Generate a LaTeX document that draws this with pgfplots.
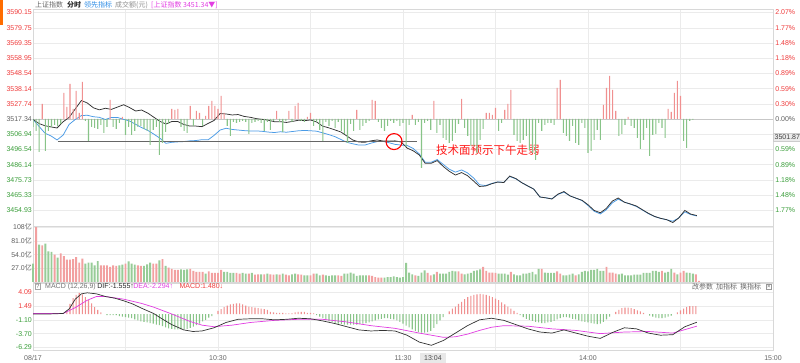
\documentclass[border=0pt]{standalone}
\usepackage{pgfplots}
\pgfplotsset{compat=1.18}
\usepackage{pgfplotstable}
\usepackage{fontspec}
\setmainfont{Liberation Sans}
\newfontfamily\cjk{Noto Sans CJK SC}
\definecolor{upred}{HTML}{F03C3C}
\definecolor{dngreen}{HTML}{3A9E3A}
\definecolor{barred}{HTML}{F2A0A0}
\definecolor{bargreen}{HTML}{97CC97}
\definecolor{ibarred}{HTML}{F09090}
\definecolor{ibargreen}{HTML}{88C488}
\definecolor{gridc}{HTML}{EBEBEB}
\definecolor{frame}{HTML}{D8D8D8}
\definecolor{labgray}{HTML}{606060}
\definecolor{lineblue}{HTML}{4A9BE6}
\definecolor{linedark}{HTML}{333333}
\definecolor{deamag}{HTML}{E23CE2}
\definecolor{hdrblue}{HTML}{2C8CE6}

\pgfplotstableread{
t p b
0 3517.1 3517.1
2.0 3514.2 3512.2
3.9 3512.7 3507.6
5.9 3511.9 3505.7
7.8 3511.2 3503.0
9.8 3515.5 3506.4
11.7 3518.4 3513.6
13.7 3524.2 3517.0
15.7 3530.0 3519.7
17.6 3528.3 3519.9
19.6 3525.0 3518.9
21.5 3523.6 3518.5
23.5 3524.7 3517.0
25.4 3523.9 3518.4
27.4 3525.5 3518.4
29.4 3527.1 3517.1
31.3 3525.2 3516.0
33.3 3522.8 3513.7
35.2 3523.5 3511.5
37.2 3521.4 3509.6
39.1 3518.7 3507.1
41.1 3515.8 3504.3
43.1 3513.9 3500.7
45.0 3515.6 3501.4
47.0 3515.6 3501.7
48.9 3513.6 3501.9
50.9 3512.5 3502.4
52.8 3512.5 3502.6
54.8 3512.1 3503.2
56.8 3514.3 3503.1
58.7 3516.3 3506.1
60.7 3521.1 3509.8
62.6 3520.8 3511.0
64.6 3520.1 3510.2
66.5 3520.4 3509.8
68.5 3519.1 3509.4
70.5 3518.5 3509.1
72.4 3517.6 3509.2
74.4 3517.1 3508.9
76.3 3516.5 3508.4
78.3 3515.5 3508.1
80.2 3515.5 3508.6
82.2 3515.0 3508.3
84.2 3515.7 3508.8
86.1 3516.5 3509.3
88.1 3516.2 3509.5
90.0 3516.7 3509.3
92.0 3515.3 3509.0
93.9 3512.5 3507.9
95.9 3511.3 3506.7
97.9 3509.9 3505.3
99.8 3508.5 3503.4
101.8 3505.7 3501.4
103.7 3503.0 3500.4
105.7 3501.6 3499.5
107.6 3501.4 3499.5
109.6 3502.4 3500.8
111.6 3503.0 3501.9
113.5 3502.3 3502.0
115.5 3502.2 3501.1
117.4 3502.4 3500.0
119.4 3501.6 3499.5
121.3 3497.5 3499.3
123.3 3495.6 3497.2
125.3 3492.7 3493.4
127.2 3487.0 3487.8
129.2 3487.1 3487.8
131.1 3488.9 3489.6
133.1 3484.8 3486.2
135.0 3481.6 3483.0
137.0 3479.0 3481.0
139.0 3480.7 3482.5
140.9 3478.6 3480.5
142.9 3474.9 3477.0
144.8 3471.2 3472.4
146.8 3471.5 3471.8
148.7 3473.0 3473.2
150.7 3474.2 3474.3
152.7 3473.9 3474.0
154.6 3478.3 3478.0
156.6 3476.6 3476.4
158.5 3473.8 3473.8
160.5 3471.5 3471.5
162.4 3469.4 3469.4
164.4 3464.0 3464.0
166.4 3463.4 3463.4
168.3 3462.6 3462.8
170.3 3466.0 3465.8
172.2 3467.7 3467.3
174.2 3464.7 3464.7
176.1 3463.2 3463.2
178.1 3461.7 3461.5
180.1 3458.5 3458.0
182.0 3454.8 3454.2
184.0 3453.2 3452.4
185.9 3456.1 3455.2
187.9 3461.2 3460.0
189.8 3463.3 3462.5
191.8 3460.4 3460.5
193.8 3459.2 3459.0
195.7 3457.8 3457.5
197.7 3455.2 3455.0
199.6 3452.8 3452.6
201.6 3450.7 3450.6
203.5 3449.4 3449.4
205.5 3448.5 3448.4
207.5 3446.5 3447.4
209.4 3449.6 3449.6
211.4 3454.8 3453.8
213.3 3452.3 3452.0
215.3 3451.3 3451.0
}\pricetab

\pgfplotsset{panel/.style={scale only axis, width=740pt, xmin=0, xmax=240,
  anchor=south west, clip=false, axis line style={draw=frame},
  tick style={draw=none}, xticklabels={}, yticklabels={},
  grid=major, major grid style={draw=gridc, line width=0.5pt},
  xtick={30,60,90,120,150,180,210}}}

\newcommand\lab[4]{\node[anchor=#1,text=#2,inner sep=0pt] at (axis cs:#3) {#4};}

\begin{document}
\begin{tikzpicture}[font=\fontsize{7}{8}\selectfont]
\path[use as bounding box, fill=white] (0pt,0pt) rectangle (800pt,363pt);
\fill[orange!85!red] (0pt,338pt) rectangle (2.5pt,363pt);
% header
\node[anchor=west,inner sep=0pt,text=black!60] at (35pt,358pt) {\cjk 上证指数};
\node[anchor=west,inner sep=0pt,text=black!85] at (67pt,358pt) {\cjk\bfseries 分时};
\node[anchor=west,inner sep=0pt,text=hdrblue] at (84pt,358pt) {\cjk 领先指标};
\node[anchor=west,inner sep=0pt,text=black!45] at (115pt,358pt) {\cjk 成交额(元)};
\node[anchor=west,inner sep=0pt,text=deamag] at (151pt,358pt) {\cjk [上证指数 3451.34▼]};

% ===== price panel =====
\begin{axis}[panel, at={(33pt,137pt)}, height=217pt, ymin=3444.15, ymax=3592.6,
  ytick={3454.93,3465.33,3475.73,3486.14,3496.54,3506.94,3527.74,3538.14,3548.54,3558.95,3569.35,3579.75,3590.15},
  extra y ticks={3517.34}, extra y tick labels={},
  extra y tick style={major grid style={draw=black!22, line width=0.6pt}}]
\addplot[lineblue, line width=0.75pt] table[x=t, y=b] {\pricetab};
\addplot[linedark, line width=0.75pt] table[x=t, y=p] {\pricetab};
\addplot[black!60, line width=0.8pt] coordinates {(8.1,3501.87) (124.6,3501.87)};
\draw[red, line width=1.1pt] (axis cs:117.1,3501.9) circle[radius=8pt];
\node[anchor=west, text=red!90!white, inner sep=0pt, font=\cjk\fontsize{11.5}{12}\selectfont] at (axis cs:130.7,3496.1) {技术面预示下午走弱};
% left labels
\lab{east}{upred}{-0.3,3590.15}{3590.15}
\lab{east}{upred}{-0.3,3579.75}{3579.75}
\lab{east}{upred}{-0.3,3569.35}{3569.35}
\lab{east}{upred}{-0.3,3558.95}{3558.95}
\lab{east}{upred}{-0.3,3548.54}{3548.54}
\lab{east}{upred}{-0.3,3538.14}{3538.14}
\lab{east}{upred}{-0.3,3527.74}{3527.74}
\lab{east}{labgray}{-0.3,3517.34}{3517.34}
\lab{east}{dngreen}{-0.3,3506.94}{3506.94}
\lab{east}{dngreen}{-0.3,3496.54}{3496.54}
\lab{east}{dngreen}{-0.3,3486.14}{3486.14}
\lab{east}{dngreen}{-0.3,3475.73}{3475.73}
\lab{east}{dngreen}{-0.3,3465.33}{3465.33}
\lab{east}{dngreen}{-0.3,3454.93}{3454.93}
% right labels
\lab{west}{upred}{240.7,3590.15}{2.07\%}
\lab{west}{upred}{240.7,3579.75}{1.77\%}
\lab{west}{upred}{240.7,3569.35}{1.48\%}
\lab{west}{upred}{240.7,3558.95}{1.18\%}
\lab{west}{upred}{240.7,3548.54}{0.89\%}
\lab{west}{upred}{240.7,3538.14}{0.59\%}
\lab{west}{upred}{240.7,3527.74}{0.30\%}
\lab{west}{labgray}{240.7,3517.34}{0.00\%}
\lab{west}{dngreen}{240.7,3496.54}{0.59\%}
\lab{west}{dngreen}{240.7,3486.14}{0.89\%}
\lab{west}{dngreen}{240.7,3475.73}{1.18\%}
\lab{west}{dngreen}{240.7,3465.33}{1.48\%}
\lab{west}{dngreen}{240.7,3454.93}{1.77\%}
\node[anchor=west, fill=black!8, draw=black!20, text=black!75, inner xsep=1.5pt, inner ysep=1.5pt, minimum width=28pt] at (axis cs:240,3505.0) {3501.87};
\end{axis}

% ===== indicator bars overlay =====
\begin{axis}[scale only axis, width=740pt, height=217pt, at={(33pt,137pt)}, anchor=south west,
  xmin=0, xmax=240, ymin=-107, ymax=110, axis lines=none]
\addplot[ybar, bar width=1.1pt, bar shift=0pt, fill=ibarred, draw=none] coordinates {
(3,15) (10,26) (11,12) (12,35) (13,10) (14,28) (15,6) (16,37) (25,19) (29,2) (45,10) (46,9) (47,10) (51,13) (53,8) (54,6) (56,3) (57,13) (58,18) (59,13) (60,10) (61,23) (62,6) (79,8) (83,8) (85,13) (86,16) (89,2) (90,6) (105,9) (110,19) (111,18) (123,4) (130,18) (139,20) (147,6) (148,6) (149,4) (150,11) (153,9) (154,15) (155,29) (170,31) (171,39) (185,14) (186,31) (187,43) (188,29) (189,8) (193,2) (206,10) (207,7) (208,26) (209,38) (210,23)};
\addplot[ybar, bar width=1.1pt, bar shift=0pt, fill=ibargreen, draw=none] coordinates {
(0,-8) (1,-12) (2,-33) (4,-32) (5,-12) (6,-8) (7,-6) (8,-7) (9,-5) (17,-2) (18,-22) (19,-8) (20,-9) (21,-10) (22,-6) (23,-14) (24,-8) (26,-8) (27,-10) (28,-4) (30,-16) (31,-8) (32,-16) (33,-12) (34,-8) (35,-7) (36,-10) (37,-12) (38,-26) (39,-11) (40,-8) (41,-36) (42,-24) (43,-13) (44,-5) (48,-8) (49,-12) (50,-14) (52,-7) (55,-7) (63,-7) (64,-17) (65,-3) (66,-4) (67,-3) (68,-2) (69,-3) (70,-15) (71,-4) (72,-3) (73,-2) (74,-4) (75,-12) (76,-3) (77,-11) (78,-2) (80,-3) (81,-13) (82,-2) (84,-3) (87,-2) (88,-3) (91,-7) (92,-3) (93,-11) (94,-22) (95,-3) (96,-7) (97,-2) (98,-9) (99,-3) (100,-12) (101,-15) (102,-24) (103,-5) (104,-12) (106,-11) (107,-7) (108,-4) (109,-2) (112,-3) (113,-9) (114,-12) (115,-7) (116,-2) (117,-4) (118,-2) (119,-7) (120,-4) (121,-28) (122,-6) (124,-6) (125,-3) (126,-49) (127,-4) (128,-2) (129,-11) (131,-14) (132,-6) (133,-19) (134,-21) (135,-24) (136,-22) (137,-14) (138,-5) (140,-9) (141,-17) (142,-27) (143,-27) (144,-34) (145,-21) (146,-10) (151,-12) (152,-4) (156,-16) (157,-22) (158,-24) (159,-21) (160,-17) (161,-31) (162,-34) (163,-41) (164,-4) (165,-12) (166,-6) (167,-4) (168,-4) (169,-6) (172,-14) (173,-17) (174,-22) (175,-7) (176,-24) (177,-26) (178,-4) (179,-9) (180,-34) (181,-32) (182,-21) (183,-11) (184,-21) (190,-17) (191,-15) (192,-6) (194,-7) (195,-9) (196,-19) (197,-30) (198,-21) (199,-9) (200,-37) (201,-16) (202,-15) (203,-4) (204,-9) (205,-19) (211,-22) (212,-29) (213,-2) (214,-1)};
\end{axis}

% ===== volume panel =====
\begin{axis}[panel, at={(33pt,81pt)}, height=56pt, ymin=0, ymax=110, ytick={27,54,81,108}]
\addplot[ybar, bar width=1.9pt, bar shift=0pt, fill=barred, draw=none] coordinates {
(1,108) (3,72) (7,54) (9,56) (10,50.6) (11,44) (12,44) (13,44.7) (14,49) (15,38) (16,46) (22,32.8) (23,32.8) (24,32.8) (25,29.6) (26,32.8) (27,31.5) (30,36) (34,32.8) (35,31.5) (39,36) (40,36) (42,44.7) (44,28) (45,26) (46,24) (47,24) (51,26) (52,21.7) (53,19.7) (54,19.7) (55,19.7) (57,21) (58,17.7) (59,17.7) (60,17.7) (61,24) (66,17.7) (67,16.4) (70,16.4) (72,14.4) (73,15) (75,15) (77,15) (78,14.4) (80,14.4) (82,14.4) (83,13) (86,15) (87,14.4) (90,13) (91,16.4) (94,14.4) (99,13) (100,11.8) (109,13) (110,11.8) (111,9.8) (112,8.5) (113,8.5) (124,13) (128,17.7) (129,13) (131,19.7) (138,21) (139,16.4) (146,29.6) (147,21.7) (148,18.4) (149,18.4) (150,17.7) (155,19.7) (165,26) (170,21) (171,16.4) (176,13) (186,29.6) (187,18.4) (188,18.4) (189,16.4) (204,21.7) (208,18.4) (210,18.4) (211,21.7) (215,15) (216,2)};
\addplot[ybar, bar width=1.9pt, bar shift=0pt, fill=bargreen, draw=none] coordinates {
(0,36) (2,73.6) (4,75.5) (5,60) (6,59) (8,48) (17,36) (18,38) (19,38) (20,32.8) (21,41) (28,32.8) (29,34) (31,40.7) (32,36) (33,34) (36,31.5) (37,34.8) (38,38) (41,42.7) (43,31.5) (48,25) (49,24) (50,25) (56,16.4) (62,19.7) (63,19.7) (64,17.7) (65,17.7) (68,17.7) (69,16.4) (71,17.7) (74,15) (76,16.4) (79,15) (81,16.4) (84,15) (85,16.4) (88,13) (89,13) (92,16.4) (93,13) (95,13) (96,11.8) (97,13) (98,13) (101,16.4) (102,16.4) (103,18.4) (104,16.4) (105,11.8) (106,13) (107,13) (108,13) (114,8.5) (115,9.8) (116,9.8) (117,11.2) (118,9.8) (119,8.5) (120,9.8) (121,37.4) (122,18.4) (123,15) (125,11.8) (126,18.4) (127,23) (130,15) (132,16.4) (133,16.4) (134,16.4) (135,19.7) (136,21.7) (137,21) (140,15) (141,16.4) (142,17.7) (143,21.7) (144,23) (145,25) (151,16.4) (152,16.4) (153,16.4) (154,14.4) (156,15) (157,13) (158,13) (159,16.4) (160,16.4) (161,17.7) (162,19.7) (163,15) (164,26) (166,18.4) (167,17.7) (168,17.7) (169,17.7) (172,13) (173,13) (174,14.4) (175,16.4) (177,15) (178,19.7) (179,21.7) (180,21) (181,24) (182,24) (183,26) (184,21.7) (185,21.7) (190,15) (191,16.4) (192,13) (193,13) (194,13) (195,14.4) (196,14.4) (197,14.4) (198,17.7) (199,17.7) (200,17.7) (201,21.7) (202,21.7) (203,19.7) (205,18.4) (206,19.7) (207,26) (209,15) (212,18.4) (213,17.7) (214,16.4)};
\lab{east}{labgray}{-0.3,108}{108{\cjk 亿}}
\lab{east}{labgray}{-0.3,81}{81.0{\cjk 亿}}
\lab{east}{labgray}{-0.3,54}{54.0{\cjk 亿}}
\lab{east}{labgray}{-0.3,27}{27.0{\cjk 亿}}
\end{axis}

% ===== MACD panel =====
\begin{axis}[panel, at={(33pt,13pt)}, height=67pt, ymin=-6.79, ymax=5.85, ytick={-6.29,-3.70,-1.10,1.49,4.09}]
\addplot[ybar, bar width=1.1pt, bar shift=0pt, fill=ibarred, draw=none] coordinates {
(11,0.6) (12,1.9) (13,3.0) (14,3.6) (15,4.0) (16,3.7) (17,3.2) (18,2.6) (19,2.0) (20,1.3) (21,0.8) (22,0.3)
(60,0.6) (61,0.9) (62,1.3) (63,1.6) (64,1.8) (65,1.9) (66,2.0) (67,2.0) (68,1.8) (69,1.6) (70,1.4) (71,1.3) (72,1.2) (73,1.1) (74,1.0) (75,0.9) (76,0.8) (77,0.4) (78,0.3) (79,0.2) (80,0.2) (81,0.2) (82,0.1) (83,0.1) (84,0.1) (85,0.3) (86,0.4) (87,0.4) (88,0.4) (89,0.2) (90,0.2) (91,0.1)
(135,0.5) (136,1.0) (137,1.4) (138,1.9) (139,2.3) (140,2.8) (141,3.2) (142,3.4) (143,3.6) (144,3.7) (145,3.8) (146,3.7) (147,3.6) (148,3.4) (149,3.2) (150,2.9) (151,2.6) (152,2.2) (153,1.8) (154,1.4) (155,1.0) (156,0.6) (157,0.2)
(189,0.4) (190,0.8) (191,1.1) (192,1.2) (193,1.2) (194,1.1) (195,0.9) (196,0.7) (197,0.5) (198,0.2)
(209,0.3) (210,0.7) (211,1.0) (212,1.3) (213,1.5) (214,1.5) (215,1.48)};
\addplot[ybar, bar width=1.1pt, bar shift=0pt, fill=ibargreen, draw=none] coordinates {
(24,-0.2) (25,-0.2) (26,-0.2) (27,-0.2) (28,-0.4) (29,-0.5) (30,-0.6) (31,-0.7) (32,-0.8) (33,-1.0) (34,-1.2) (35,-1.4) (36,-1.5) (37,-1.6) (38,-1.7) (39,-1.8) (40,-2.0) (41,-2.1) (42,-2.3) (43,-2.5) (44,-2.7) (45,-2.8) (46,-2.9) (47,-2.9) (48,-2.9) (49,-2.9) (50,-2.8) (51,-2.6) (52,-2.4) (53,-2.1) (54,-1.8) (55,-1.4) (56,-1.1) (57,-0.7) (58,-0.4)
(92,-0.2) (93,-0.5) (94,-0.8) (95,-1.1) (96,-1.4) (97,-1.5) (98,-1.7) (99,-1.8) (100,-1.9) (101,-2.0) (102,-2.0) (103,-2.0) (104,-2.0) (105,-2.0) (106,-1.9) (107,-1.8) (108,-1.7) (109,-1.6) (110,-1.4) (111,-1.2) (112,-1.0) (113,-0.9) (114,-0.8) (115,-0.8) (116,-0.9) (117,-1.0) (118,-1.2) (119,-1.5) (120,-1.8) (121,-2.2) (122,-2.5) (123,-2.9) (124,-3.2) (125,-3.4) (126,-3.5) (127,-3.5) (128,-3.4) (129,-3.2) (130,-2.6) (131,-1.9) (132,-1.2) (133,-0.6)
(158,-0.2) (159,-0.6) (160,-0.9) (161,-1.1) (162,-1.3) (163,-1.5) (164,-1.6) (165,-1.7) (166,-1.7) (167,-1.6) (168,-1.5) (169,-1.3) (170,-1.0) (171,-0.8) (172,-0.6) (173,-0.6) (174,-0.7) (175,-0.9) (176,-1.0) (177,-1.2) (178,-1.4) (179,-1.5) (180,-1.6) (181,-1.7) (182,-1.8) (183,-1.9) (184,-1.8) (185,-1.5) (186,-1.0) (187,-0.5)
(200,-0.3) (201,-0.5) (202,-0.7) (203,-0.8) (204,-0.8) (205,-0.7) (206,-0.5) (207,-0.3)};
\addplot[deamag, line width=0.7pt] coordinates {(0,0.1) (9.8,0.1) (13.7,1.2) (17.6,2.6) (20.6,3.3) (23.5,3.3) (29.4,2.8) (35.2,2.0) (39.1,1.3) (45,0.0) (50.9,-1.4) (54.8,-2.1) (58.7,-2.4) (64.6,-2.1) (70.5,-1.6) (78.3,-1.2) (86.1,-1.0) (93.9,-1.0) (101.8,-1.5) (109.6,-2.2) (117.4,-2.7) (125.3,-3.6) (133.1,-4.4) (137,-4.3) (140.9,-3.8) (144.8,-3.1) (148.7,-2.5) (152.7,-2.2) (160.5,-2.3) (168.3,-2.8) (176.1,-3.1) (184,-3.7) (191.8,-3.4) (199.6,-3.3) (207.5,-3.6) (215.3,-2.294)};
\addplot[linedark, line width=0.7pt] coordinates {(0,0.0) (5,0.0) (9.8,0.1) (11.8,1.0) (13.7,2.8) (15.7,3.8) (17.6,4.0) (20.6,3.8) (23.5,3.3) (26.4,3.0) (29.4,2.5) (32.3,1.9) (35.2,1.1) (39.1,0.1) (42.1,-1.0) (45,-2.0) (48.9,-3.0) (51.9,-3.3) (54.8,-3.2) (58.7,-2.6) (62.6,-1.6) (66.5,-1.0) (70.5,-0.9) (74.4,-0.9) (78.3,-1.1) (82.2,-1.0) (86.1,-0.8) (90,-0.9) (93.9,-1.3) (97.9,-1.8) (101.8,-2.4) (105.7,-3.0) (109.6,-3.2) (113.5,-3.1) (117.4,-3.2) (121.3,-4.0) (125.3,-5.3) (129.2,-5.9) (133.1,-5.0) (137,-3.6) (140.9,-2.2) (144.8,-1.1) (148.7,-0.8) (152.7,-1.2) (156.6,-2.0) (160.5,-2.8) (164.4,-3.4) (168.3,-3.6) (172.2,-3.0) (176.1,-3.6) (180.1,-4.2) (184,-4.6) (187.9,-3.5) (191.8,-2.6) (195.7,-2.8) (199.6,-3.6) (203.5,-4.0) (207.5,-3.9) (211.4,-2.4) (215.3,-1.555)};
\lab{east}{upred}{-0.3,4.09}{4.09}
\lab{east}{upred}{-0.3,1.49}{1.49}
\lab{east}{dngreen}{-0.3,-1.10}{-1.10}
\lab{east}{dngreen}{-0.3,-3.70}{-3.70}
\lab{east}{dngreen}{-0.3,-6.29}{-6.29}
% header inside MACD panel
\node[anchor=west, draw=black!35, inner sep=0.8pt, text=black!55, font=\fontsize{6}{6}\selectfont] at (axis cs:0.7,5.2) {?};
\node[anchor=west, inner sep=0pt, text=black!55] at (axis cs:3.9,5.2) {MACD (12,26,9)};
\node[anchor=west, inner sep=0pt, text=black!85] at (axis cs:20.8,5.2) {DIF:-1.555↑};
\node[anchor=west, inner sep=0pt, text=deamag] at (axis cs:32.5,5.2) {DEA:-2.294↑};
\node[anchor=west, inner sep=0pt, text=upred] at (axis cs:47.5,5.2) {MACD:1.480↓};
\node[anchor=east, inner sep=0pt, text=black!60] at (axis cs:236.2,5.2) {\cjk 改参数\hspace{3pt}加指标\hspace{3pt}换指标};
\node[anchor=east, draw=black!40, inner sep=0.6pt, text=black!60, font=\fontsize{6}{6}\selectfont] at (axis cs:239.5,5.2) {×};
% time labels
\node[text=black!60, inner sep=0pt] at (axis cs:0,-8.3) {08/17};
\node[text=black!60, inner sep=0pt] at (axis cs:60,-8.3) {10:30};
\node[text=black!60, inner sep=0pt] at (axis cs:120,-8.3) {11:30};
\node[fill=black!9, text=black!70, inner xsep=4pt, inner ysep=3pt] at (axis cs:129.7,-8.3) {13:04};
\node[text=black!60, inner sep=0pt] at (axis cs:180,-8.3) {14:00};
\node[text=black!60, inner sep=0pt] at (axis cs:240,-8.3) {15:00};
\end{axis}
\end{tikzpicture}
\end{document}
